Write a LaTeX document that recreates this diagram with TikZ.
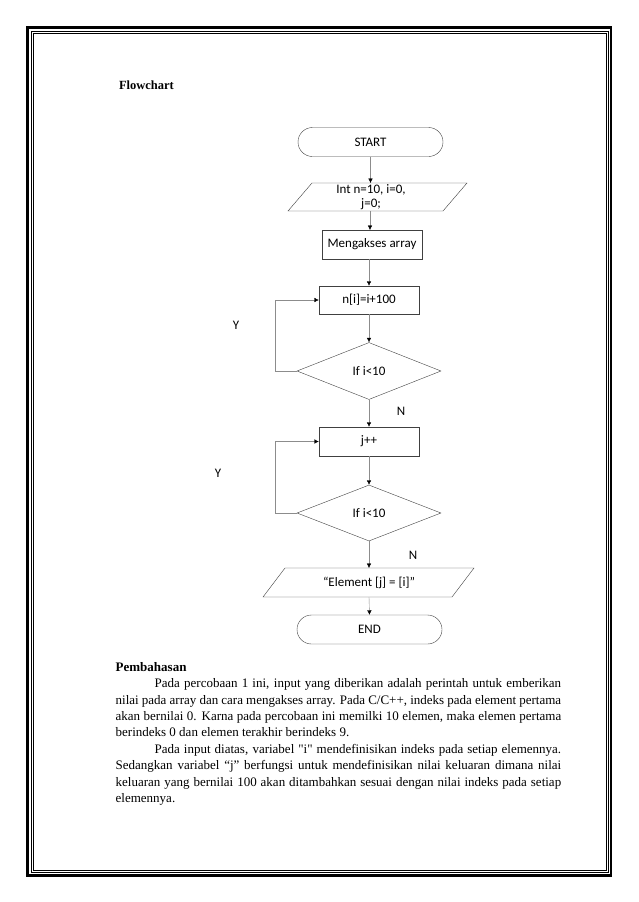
\documentclass[tikz,border=0pt]{standalone}
\usepackage{fontspec}
\setmainfont{Liberation Serif}[Ligatures=TeXOff]
\newfontfamily\chartfont{Carlito}
\usetikzlibrary{shapes.geometric,arrows.meta}

\tikzset{
	chart/.style={font=\chartfont\fontsize{13}{14.5}\selectfont},
	terminal/.style={chart, draw=black!75, rounded corners=14.5pt, minimum width=145pt, minimum height=29pt, inner sep=0pt},
	process/.style={chart, draw=black!75, minimum width=100pt, minimum height=28pt, inner sep=0pt},
	decision/.style={chart, diamond, draw=black!75, minimum width=144pt, minimum height=57pt, inner sep=0pt},
	iobox/.style={chart, minimum height=28pt, inner sep=0pt, align=center},
	flow/.style={draw=black!45, -{Latex[color=black, length=4.5pt, width=4.5pt]}},
	branch/.style={chart, inner sep=0pt},
}

\begin{document}
\begin{tikzpicture}[x=1pt, y=-1pt]
		%%%%% START %%%%%
		
		\useasboundingbox (0, 0) rectangle (638, 902);
		
		\draw[line width=2.6pt] (27.5, 27.5) rectangle (611, 875.5);
		\draw[line width=0.9pt] (31.2, 31.2) rectangle (608.2, 872.8);
		\draw[line width=0.9pt] (33.2, 33.2) rectangle (606, 870.6);
		
		\node[anchor=west, font=\bfseries\fontsize{12.5}{15}\selectfont] (title) at (115.5, 85) {Flowchart};
		
		\node[terminal] (start) at (370.5, 142) {START};
		
		\node[iobox] (init) at (371, 197) {Int n=10, i=0,\\ j=0;};
		\draw[draw=black!75] (312, 183) -- (467, 183) -- (443, 211) -- (288, 211) -- cycle;
		
		\node[process, minimum width=100pt, minimum height=29pt] (access) at (372, 244.5) {Mengakses array};
		\node[process] (assign) at (369, 300) {n[i]=i+100};
		\node[decision] (cond1) at (369, 371) {If i<10};
		\node[process, minimum height=29pt] (incr) at (369, 441.5) {j++};
		\node[decision, minimum height=56pt] (cond2) at (369, 513) {If i<10};
		
		\node[iobox] (show) at (369, 582.5) {“Element [j] = [i]”};
		\draw[draw=black!75] (285, 568) -- (474, 568) -- (452, 597) -- (263, 597) -- cycle;
		
		\node[terminal] (stop) at (369.5, 629.5) {END};
		
		\draw[flow] (start.south) -- (370.5, 183);
		\draw[flow] (370, 211) -- (370, 230);
		\draw[flow] (369, 259) -- (assign.north);
		\draw[flow] (assign) -- (cond1);
		\draw[flow] (cond1.west) -- ++(-22, 0) |- (assign.west);
		\draw[flow] (cond1) -- (incr);
		\draw[flow] (incr) -- (cond2);
		\draw[flow] (cond2.west) -- ++(-22, 0) |- (incr.west);
		\draw[flow] (cond2.south) -- (369, 568);
		\draw[flow] (369, 597) -- (stop.north);
		
		\node[branch] (yes1) at (236, 325) {Y};
		\node[branch] (no1) at (401, 411) {N};
		\node[branch] (yes2) at (218, 473) {Y};
		\node[branch] (no2) at (413, 555) {N};
		
		\node[anchor=north west, text width=445.5pt, align=justify, inner sep=0pt, font={\fontsize{13}{16.4}\selectfont\hyphenpenalty=10000 \emergencystretch=20pt}] (body) at (115.5, 662) {%
			\textbf{Pembahasan}\\
			\hspace*{39pt}Pada percobaan 1 ini, input yang diberikan adalah perintah untuk emberikan\linebreak nilai pada array dan cara mengakses array. Pada C/C++, indeks pada element pertama\linebreak akan bernilai 0. Karna pada percobaan ini memilki 10 elemen, maka elemen pertama\linebreak berindeks 0 dan elemen terakhir berindeks 9.\par
			\hspace*{39pt}Pada input diatas, variabel "i" mendefinisikan indeks pada setiap elemennya.\linebreak Sedangkan variabel “j” berfungsi untuk mendefinisikan nilai keluaran dimana nilai\linebreak keluaran yang bernilai 100 akan ditambahkan sesuai dengan nilai indeks pada setiap\linebreak elemennya.};
		
		%%%%% END %%%%%
	\end{tikzpicture}
\end{document}
